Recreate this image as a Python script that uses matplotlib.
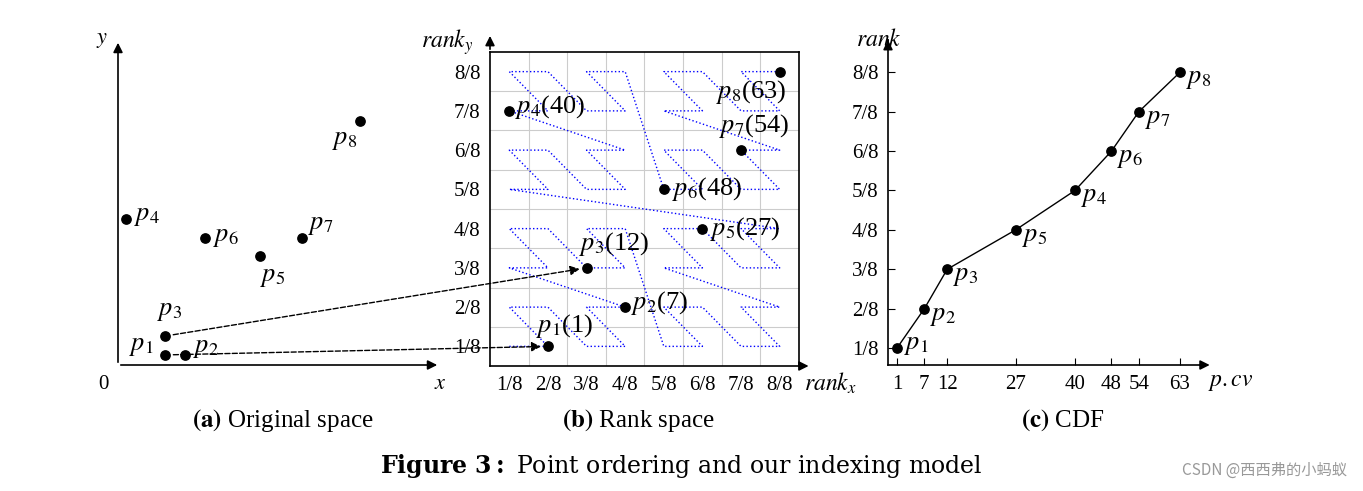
import matplotlib
matplotlib.use("Agg")
import matplotlib.pyplot as plt
import numpy as np
from matplotlib.patches import ConnectionPatch

plt.rcParams['font.family'] = ['Liberation Serif', 'Noto Sans CJK SC', 'DejaVu Sans']
plt.rcParams['mathtext.fontset'] = 'stix'

names = ['p_1', 'p_2', 'p_3', 'p_4', 'p_5', 'p_6', 'p_7', 'p_8']
orig_x = [1.46, 2.08, 1.46, 0.25, 4.41, 2.70, 5.71, 7.52]
orig_y = [0.31, 0.31, 0.89, 4.49, 3.35, 3.91, 3.91, 7.51]
rank_x = [2, 4, 3, 1, 6, 5, 7, 8]
rank_y = [1, 2, 3, 7, 4, 5, 6, 8]
cv = [1, 7, 12, 40, 27, 48, 54, 63]
cdf_rank = [1, 2, 3, 5, 4, 6, 7, 8]
rank_labels = ['1/8', '2/8', '3/8', '4/8', '5/8', '6/8', '7/8', '8/8']

W, H = 1363, 491
fig = plt.figure(figsize=(W/100, H/100), dpi=100)

def rect(l, r, t, b):
    return [l/W, (H-b)/H, (r-l)/W, (b-t)/H]

def arrow_axes(ax, x0, y0, x1, y1):
    ax.annotate('', xy=(x1, y1), xytext=(x0, y0), xycoords='axes fraction',
                arrowprops=dict(arrowstyle='-|>', color='k', lw=1.2, mutation_scale=14),
                annotation_clip=False)

FS = 19
TFS = 15

# ---- (a)
axa = fig.add_axes(rect(118, 440, 40, 365))
axa.set_xlim(0, 10); axa.set_ylim(0, 10)
axa.axis('off')
arrow_axes(axa, 0, 0, 1.0, 0)
arrow_axes(axa, 0, 0, 0, 1.0)
axa.scatter(orig_x, orig_y, s=45, color='k', zorder=3)
offa = [(-36, 8), (8, 6), (-8, 24), (8, 2), (0, -22), (8, 0), (6, 12), (-28, -20)]
for i in range(8):
    axa.annotate(f'${names[i]}$', (orig_x[i], orig_y[i]), xytext=offa[i], textcoords='offset pixels',
                 fontsize=FS, va='center', ha='left')
axa.text(-0.03, -0.06, '0', transform=axa.transAxes, fontsize=TFS, ha='right', va='center')
axa.text(1.0, -0.06, '$x$', transform=axa.transAxes, fontsize=TFS+1, ha='center', va='center')
axa.text(-0.05, 1.0, '$y$', transform=axa.transAxes, fontsize=TFS+1, ha='center', va='center')

# ---- (b)
axb = fig.add_axes(rect(490, 799, 52, 366))
axb.set_xlim(0.5, 8.5); axb.set_ylim(0.5, 8.5)
for v in np.arange(1.5, 8.5, 1):
    axb.axvline(v, color='#cccccc', lw=0.8, zorder=0)
    axb.axhline(v, color='#cccccc', lw=0.8, zorder=0)
for s in axb.spines.values():
    s.set_linewidth(1.2)
axb.set_xticks(range(1, 9)); axb.set_xticklabels(rank_labels, fontsize=TFS)
axb.set_yticks(range(1, 9)); axb.set_yticklabels(rank_labels, fontsize=TFS)
axb.tick_params(length=0, pad=7)
# Z-order curve
zx, zy = [], []
for z in range(64):
    x = y = 0
    for b in range(3):
        x |= ((z >> (2*b)) & 1) << b
        y |= ((z >> (2*b+1)) & 1) << b
    zx.append(x+1); zy.append(y+1)
axb.plot(zx, zy, color='blue', ls=':', lw=1.0, zorder=1)
axb.scatter(rank_x, rank_y, s=45, color='k', zorder=3)
offb = [(-12, 20), (6, 4), (-8, 24), (6, 4), (8, 0), (8, 0), (-22, 24), (-64, -20)]
for i in range(8):
    axb.annotate(f'${names[i]}$({cv[i]})', (rank_x[i], rank_y[i]), xytext=offb[i], textcoords='offset pixels',
                 fontsize=FS, va='center', ha='left')
arrow_axes(axb, 0, 1.0, 0, 1.06)
arrow_axes(axb, 1.0, 0, 1.04, 0)
axb.text(-0.14, 1.03, '$rank_y$', transform=axb.transAxes, fontsize=TFS+2, ha='center', va='center')
axb.text(1.1, -0.055, '$rank_x$', transform=axb.transAxes, fontsize=TFS+2, ha='center', va='center')

# ---- (c)
axc = fig.add_axes(rect(888, 1200, 40, 365))
axc.set_xlim(-0.97, 67.4); axc.set_ylim(0.57, 8.82)
for k in ['top', 'right']:
    axc.spines[k].set_visible(False)
axc.spines['left'].set_linewidth(1.2); axc.spines['bottom'].set_linewidth(1.2)
arrow_axes(axc, 0, 0.99, 0, 1.0)
arrow_axes(axc, 0.99, 0, 1.04, 0)
order = np.argsort(cv)
cv_sorted = [cv[i] for i in order]
rank_sorted = [cdf_rank[i] for i in order]
axc.set_xticks(cv_sorted); axc.set_xticklabels([str(c) for c in cv_sorted], fontsize=TFS)
axc.set_yticks(range(1, 9)); axc.set_yticklabels(rank_labels, fontsize=TFS)
axc.tick_params(direction='in', length=5, pad=7)
axc.plot(cv_sorted, rank_sorted, color='k', lw=1.0)
axc.scatter(cv, cdf_rank, s=45, color='k', zorder=3)
for i in range(8):
    off = (7, 2) if i == 0 else (6, -8)
    axc.annotate(f'${names[i]}$', (cv[i], cdf_rank[i]), xytext=off, textcoords='offset pixels',
                 fontsize=FS, va='center', ha='left')
axc.text(-0.03, 1.0, '$rank$', transform=axc.transAxes, fontsize=TFS+2, ha='center', va='center')
axc.text(1.1, -0.055, '$p.cv$', transform=axc.transAxes, fontsize=TFS+2, ha='center', va='center')

# dashed connections
for i in [0, 2]:
    con = ConnectionPatch(xyA=(orig_x[i], orig_y[i]), coordsA=axa.transData,
                          xyB=(rank_x[i], rank_y[i]), coordsB=axb.transData,
                          arrowstyle='-|>', ls='--', lw=1.0, color='k', mutation_scale=14,
                          shrinkA=6, shrinkB=5)
    fig.add_artist(con)

# captions
fig.text(283/W, 1-420/H, r'$\bf{(a)}$ Original space', fontsize=18, ha='center', va='center')
fig.text(638/W, 1-420/H, r'$\bf{(b)}$ Rank space', fontsize=18, ha='center', va='center')
fig.text(1063/W, 1-420/H, r'$\bf{(c)}$ CDF', fontsize=18, ha='center', va='center')
fig.text(681/W, 1-466/H, r'$\bf{Figure\ 3:}$ Point ordering and our indexing model', fontsize=17,
         ha='center', va='center', family='DejaVu Serif',
         math_fontfamily='dejavuserif')
fig.text(1265/W, 1-470/H, 'CSDN @西西弗的小蚂蚁', fontsize=11, color='#999999', ha='center', va='center',
         family=['Noto Sans CJK SC', 'DejaVu Sans'])

fig.savefig('out.png', dpi=100)
